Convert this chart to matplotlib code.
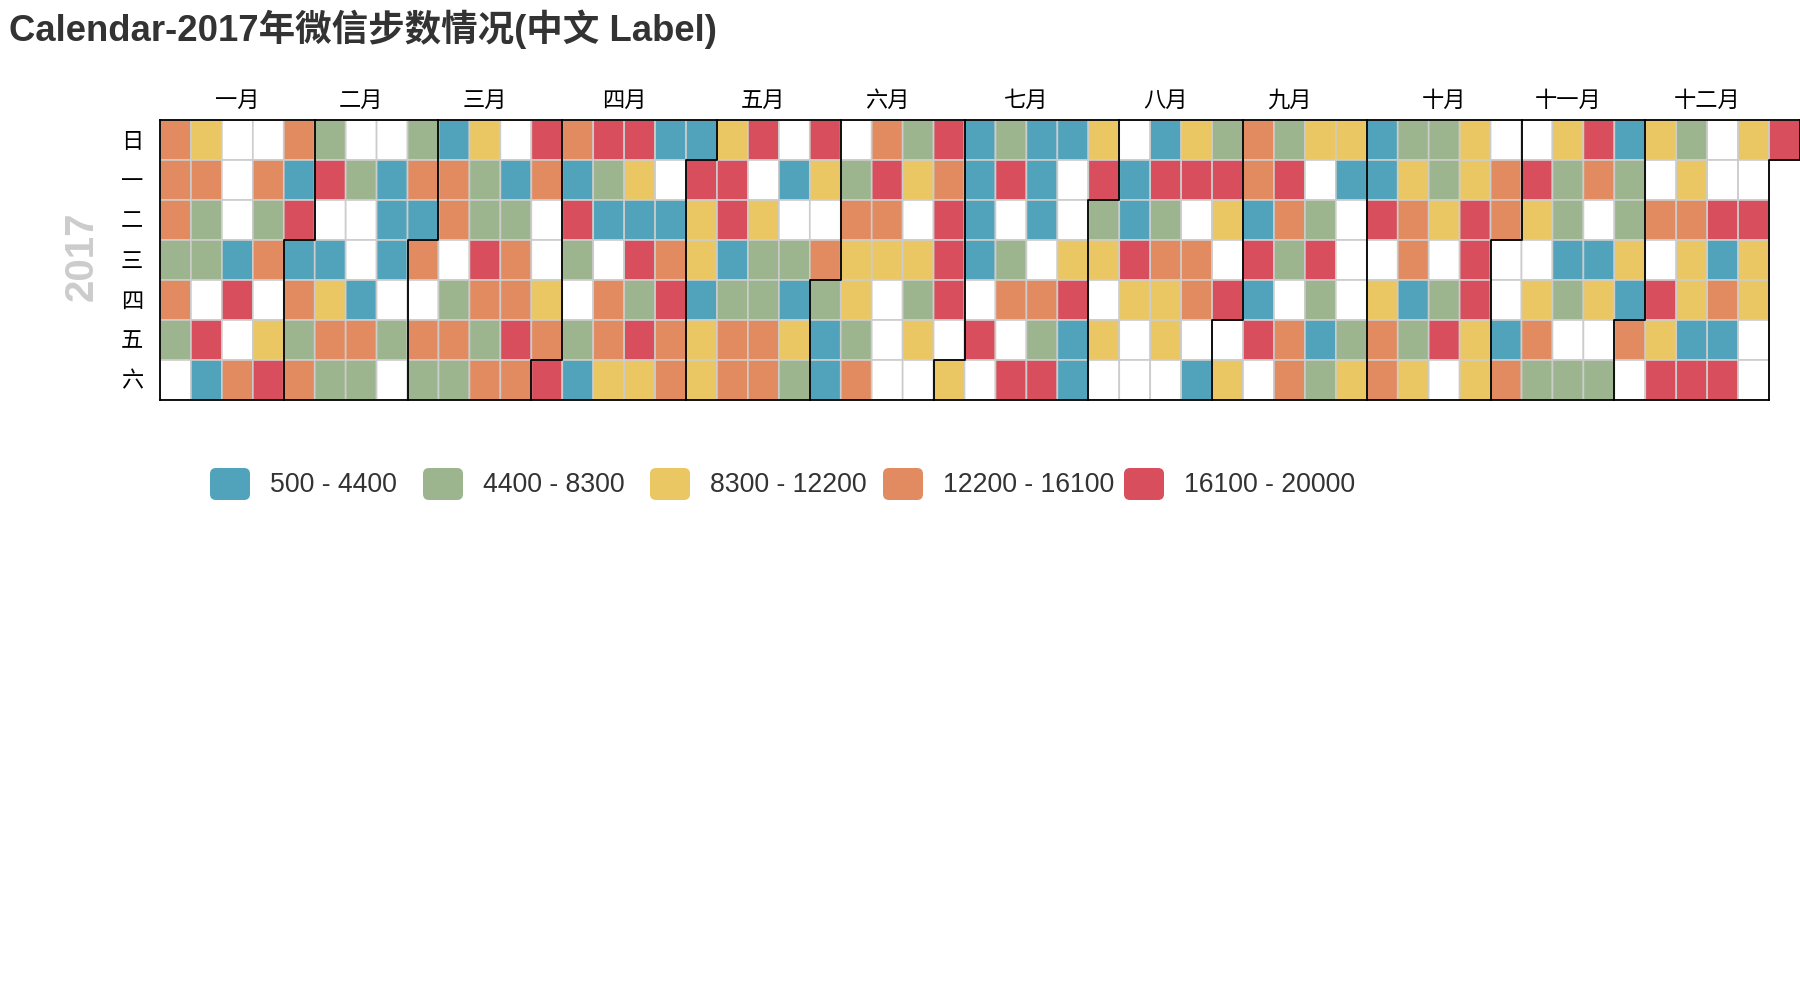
import numpy as np
import pandas as pd
import matplotlib
matplotlib.use("Agg")
import matplotlib.pyplot as plt
from matplotlib.colors import ListedColormap, BoundaryNorm
from matplotlib.patches import FancyBboxPatch

plt.rcParams['font.family'] = ['Liberation Sans', 'Noto Sans CJK SC', 'DejaVu Sans']

title = "Calendar-2017年微信步数情况(中文 Label)"
year = 2017
month_names = ["一月", "二月", "三月", "四月", "五月", "六月",
               "七月", "八月", "九月", "十月", "十一月", "十二月"]
day_names = ["日", "一", "二", "三", "四", "五", "六"]

# visualMap pieces
piece_labels = ["500 - 4400", "4400 - 8300", "8300 - 12200", "12200 - 16100", "16100 - 20000"]
piece_colors = ["#50a3ba", "#9db58e", "#eac763", "#e28a60", "#d94e5d"]

# daily step bucket, one letter per day
# B=500-4400  G=4400-8300  Y=8300-12200  O=12200-16100  R=16100-20000  W=out of range
jan = "OOOGOGW" "YOGGWRB" "WWWBRWO" "WOGOWYR" "OBR"
feb = "BOGO" "GRWBYOG" "WGWWBOG" "WBBBWGW" "GOB"
mar = "OWOG" "BOOWGOG" "YGGROGO" "WBGOORO" "ROWWYO"
apr = "R" "OBRGWGB" "RGBWOOY" "RYBRGRY" "BWBOROO" "B"
may = "RYYBYY" "YRRBGOO" "RWYGGOO" "WBWGBYG" "RYWO"
jun = "GBB" "WGOYYGO" "OROYWWW" "GYWYGYW" "RORRRW"
jul = "Y" "BBBBWRW" "GRWGOWR" "BBBWOGR" "BWWYRBB" "YR"
aug = "GYWYW" "WBBRYWW" "BRGOYYW" "YRWOOWB" "GRYWR"
sep = "WY" "OOBRBRW" "GROGWOO" "YWGRGBG" "YBWWWGY"
oct_ = "BBRWYOO" "GYOOBGY" "GGYWGRW" "YYRRRYY" "WOO"
nov = "WWBO" "WRYWYOG" "YGGBGWG" "ROWBYWG" "BGGYB"
dec = "OW" "YWOWRYR" "GYOYYBR" "WWRBOBR" "YWRYYWW" "R"

codes = jan + feb + mar + apr + may + jun + jul + aug + sep + oct_ + nov + dec
level_of = {"W": -1, "B": 0, "G": 1, "Y": 2, "O": 3, "R": 4}

dates = pd.date_range(f"{year}-01-01", f"{year}-12-31")
levels = np.array([level_of[c] for c in codes], dtype=float)


def week_pos(d):
    """(column, row) of a date, weeks starting on sunday"""
    first_wd = (pd.Timestamp(f"{year}-01-01").dayofweek + 1) % 7
    doy = (d - pd.Timestamp(f"{year}-01-01")).days
    return (doy + first_wd) // 7, (d.dayofweek + 1) % 7


cols = np.array([week_pos(d)[0] for d in dates])
rows = np.array([week_pos(d)[1] for d in dates])
ncol = cols.max() + 1

grid = np.full((7, ncol), np.nan)
grid[rows, cols] = levels
grid = np.ma.masked_invalid(grid)

fig = plt.figure(figsize=(18, 10), dpi=100)
W, H = 1800, 1000

ax = fig.add_axes([160 / W, 1 - 400 / H, 1640 / W, 280 / H])
cmap = ListedColormap(["#ffffff"] + piece_colors)
norm = BoundaryNorm(np.arange(-1.5, 5.5, 1), cmap.N)
ax.pcolor(np.arange(ncol + 1), np.arange(8), grid, cmap=cmap, norm=norm,
          edgecolors="#cccccc", linewidth=1.2)
ax.set_xlim(0, ncol)
ax.set_ylim(7, 0)
ax.axis("off")

# month split lines (start of each month + start of next year)
line_kw = dict(color="black", lw=1.3, clip_on=False, zorder=5)
for d in pd.date_range(f"{year}-01-01", periods=13, freq="MS"):
    c, r = week_pos(d)
    if r == 0:
        ax.plot([c, c], [0, 7], **line_kw)
    else:
        ax.plot([c + 1, c + 1, c, c], [0, r, r, 7], **line_kw)
top_start = cols[0] if rows[0] == 0 else cols[0] + 1
ax.plot([top_start, cols[-1] + 1], [0, 0], **line_kw)
ax.plot([cols[0], cols[-1] + (1 if rows[-1] == 6 else 0)], [7, 7], **line_kw)

# month labels centred over their weeks
for m in range(12):
    sel = dates.month == m + 1
    cx = (cols[sel].min() + cols[sel].max() + 1) / 2
    ax.text(cx, -0.47, month_names[m], ha="center", va="center", fontsize=16, color="#000")

for r, name in enumerate(day_names):
    ax.text(-0.9, r + 0.55, name, ha="center", va="center", fontsize=16, color="#000")

fig.text(82 / W, 1 - 256 / H, str(year), rotation=90, ha="center", va="center",
         fontsize=29, fontweight="bold", color="#cccccc")

fig.text(9 / W, 1 - 29 / H, title, ha="left", va="center", fontsize=26.3,
         fontweight="bold", color="#333333")

# legend
lax = fig.add_axes([0, 0, 1, 1])
lax.set_xlim(0, W)
lax.set_ylim(H, 0)
lax.axis("off")
swatch_x = [210, 423, 650, 883, 1124]
for x, lab, col in zip(swatch_x, piece_labels, piece_colors):
    lax.add_patch(FancyBboxPatch((x, 468), 40, 32, boxstyle="round,pad=0,rounding_size=6",
                                 fc=col, ec="none"))
    lax.text(x + 60, 485, lab, ha="left", va="center", fontsize=19.2, color="#333333")

fig.savefig("out.png", dpi=100, facecolor="white")
